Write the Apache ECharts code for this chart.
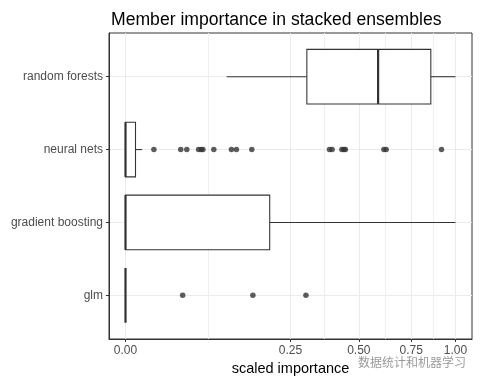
<!DOCTYPE html>
<html><head><meta charset="utf-8">
<script src="https://cdn.jsdelivr.net/npm/echarts@6/dist/echarts.min.js"></script>
<style>html,body{margin:0;padding:0;background:#fff}#c{width:480px;height:384px}</style>
</head><body><div id="c"></div>
<script>
// categories bottom -> top
const categories = ['glm', 'gradient boosting', 'neural nets', 'random forests'];
// five-number summaries [lower whisker, Q1, median, Q3, upper whisker] (original units)
const boxGlm = [0, 0, 0, 0, 0];
const boxGbm = [0, 0, 0, 0.191, 1.0];
const boxNn  = [0, 0, 0, 0.00092, 0.00255];
const boxRf  = [0.094, 0.302, 0.586, 0.856, 1.0];
// outliers (original units)
const outGlm = [0.030, 0.149, 0.299];
const outGbm = [];
const outNn  = [0.0074, 0.028, 0.0345, 0.049, 0.0526, 0.055, 0.0716, 0.103, 0.113, 0.1465,
                0.382, 0.392, 0.430, 0.438, 0.444, 0.613, 0.624, 0.917];
const outRf  = [];
// x axis ticks (original units)
const tickValues = [0, 0.25, 0.5, 0.75, 1];
const tickLabels = ['0.00', '0.25', '0.50', '0.75', '1.00'];
const xTitle = 'scaled importance';
const chartTitle = 'Member importance in stacked ensembles';
const watermark = '数据统计和机器学习';

// sqrt scale transform
const tr = v => Math.sqrt(v);
const boxes = [boxGlm, boxGbm, boxNn, boxRf];
const outs = [outGlm, outGbm, outNn, outRf];
const boxData = boxes.map((b, i) => [i].concat(b.map(tr)));
const outData = [];
outs.forEach((arr, i) => arr.forEach(v => outData.push([tr(v), i])));
const majorPos = tickValues.map(tr);
const minorPos = [];
for (let i = 0; i < majorPos.length - 1; i++) minorPos.push((majorPos[i] + majorPos[i + 1]) / 2);

const chart = echarts.init(document.getElementById('c'), null, {renderer: 'canvas'});
const HALF = 0.375;
chart.setOption({
  animation: false,
  backgroundColor: '#ffffff',
  title: {
    text: chartTitle, left: 106, top: 6,
    textStyle: {fontFamily: 'Liberation Sans, Arial', fontSize: 17.6, fontWeight: 'normal', color: '#000'}
  },
  grid: {left: 109, right: 8, top: 33, bottom: 45, show: true, borderColor: '#333333', borderWidth: 1, backgroundColor: '#fff'},
  xAxis: [{
    type: 'value', min: -0.05, max: 1.05, position: 'bottom',
    axisLine: {show: true, onZero: false, lineStyle: {color: '#333333', width: 1}},
    axisTick: {show: true, inside: false, length: 3, customValues: majorPos, lineStyle: {color: '#333333', width: 1}},
    axisLabel: {
      show: true, margin: 6, customValues: majorPos, color: '#4D4D4D',
      fontFamily: 'Liberation Sans, Arial', fontSize: 12,
      formatter: v => {
        let best = 0;
        majorPos.forEach((p, i) => { if (Math.abs(p - v) < Math.abs(majorPos[best] - v)) best = i; });
        return tickLabels[best];
      }
    },
    splitLine: {show: true, lineStyle: {color: '#EBEBEB', width: 1}},
    name: xTitle, nameLocation: 'middle', nameGap: 22,
    nameTextStyle: {fontFamily: 'Liberation Sans, Arial', fontSize: 14.5, color: '#000'}
  }, {
    type: 'value', min: -0.05, max: 1.05, position: 'bottom',
    axisLine: {show: false, onZero: false},
    axisTick: {show: false, customValues: minorPos},
    axisLabel: {show: false, customValues: minorPos},
    splitLine: {show: true, lineStyle: {color: '#EFEFEF', width: 1}}
  }],
  yAxis: {
    type: 'value', min: -0.6, max: 3.6, position: 'left',
    axisLine: {show: true, onZero: false, lineStyle: {color: '#333333', width: 1}},
    axisTick: {show: true, inside: false, length: 3, customValues: [0, 1, 2, 3], lineStyle: {color: '#333333', width: 1}},
    axisLabel: {
      show: true, margin: 6, customValues: [0, 1, 2, 3], color: '#4D4D4D',
      fontFamily: 'Liberation Sans, Arial', fontSize: 12,
      formatter: v => categories[Math.round(v)] || ''
    },
    splitLine: {show: true, lineStyle: {color: '#EBEBEB', width: 1}}
  },
  series: [{
    type: 'scatter', xAxisIndex: 0, data: outData, symbol: 'circle', symbolSize: 5.5,
    itemStyle: {color: '#333333'}, z: 3
  }, {
    type: 'custom', xAxisIndex: 0, data: boxData, z: 4,
    encode: {x: [1, 2, 3, 4, 5], y: 0},
    renderItem: (params, api) => {
      const c = api.value(0);
      const lo = api.coord([api.value(1), c]);
      const q1 = api.coord([api.value(2), c]);
      const md = api.coord([api.value(3), c]);
      const q3 = api.coord([api.value(4), c]);
      const hi = api.coord([api.value(5), c]);
      const top = api.coord([0, c + HALF])[1];
      const bot = api.coord([0, c - HALF])[1];
      const st = {stroke: '#333333', lineWidth: 1.07};
      return {type: 'group', children: [
        {type: 'line', shape: {x1: lo[0], y1: lo[1], x2: q1[0], y2: q1[1]}, style: st},
        {type: 'line', shape: {x1: q3[0], y1: q3[1], x2: hi[0], y2: hi[1]}, style: st},
        {type: 'rect', shape: {x: q1[0], y: top, width: q3[0] - q1[0], height: bot - top},
          style: {fill: '#ffffff', stroke: '#333333', lineWidth: 1.07}},
        {type: 'line', shape: {x1: md[0], y1: top, x2: md[0], y2: bot}, style: {stroke: '#333333', lineWidth: 2.2}}
      ]};
    }
  }],
  graphic: [{
    type: 'text', left: 357, top: 355, z: 100,
    style: {text: watermark, fill: 'rgba(120,120,120,0.75)', stroke: '#ffffff', lineWidth: 2,
      font: '12px "Noto Sans CJK SC", sans-serif'}
  }]
});
</script></body></html>
